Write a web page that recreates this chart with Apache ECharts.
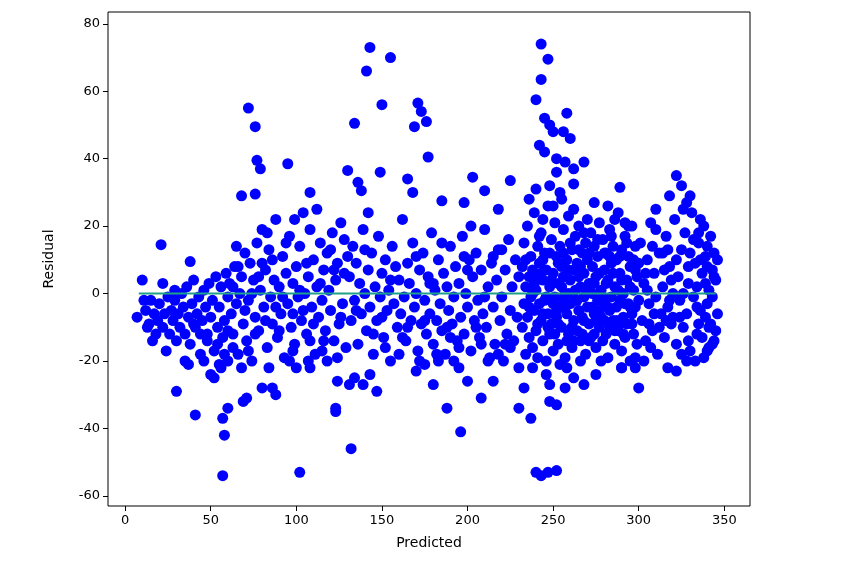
<!DOCTYPE html>
<html>
<head>
<meta charset="utf-8">
<script src="https://cdn.jsdelivr.net/npm/echarts@6/dist/echarts.min.js"></script>
<style>html,body{margin:0;background:#fff}#main{width:857px;height:577px}</style>
</head>
<body>
<div id="main"></div>
<script>
var xTicks = [0, 50, 100, 150, 200, 250, 300, 350]
var yTicks = [-60, -40, -20, 0, 20, 40, 60, 80]
var zeroLine = [[8, 0], [345, 0]]

var highPoints = [[72,55],[76,49.5],[77,39.5],[79,37],[76,29.5],[68,29],[95,38.5],[108,30],[143,73],[141,66],[155,70],[150,56],[134,50.5],[130,36.5],[136,33],[138,30.5],[149,36],[165,34],[168,30],[171,56.5],[173,54],[176,51],[177,40.5],[169,49.5],[185,27.5],[198,27],[203,34.5],[210,30.5],[218,25],[225,33.5],[240,57.5],[243,74],[243,63.5],[247,69.5],[245,52],[248,50],[250,48],[252,40],[242,44],[245,42],[258,53.5],[256,48],[260,46],[257,39],[262,37],[268,39],[262,32.5],[252,36],[248,32],[255,28],[289,31.5],[322,35],[325,32],[330,29],[310,25],[318,29],[21,14.5],[38,9.5],[346,10],[340,14],[335,18]]

var lowPoints = [[102,-53],[57,-54],[132,-46],[196,-41],[240,-53],[243,-54],[247,-53],[252,-52.5],[58,-42],[57,-37],[60,-34],[41,-36],[30,-29],[123,-34],[123,-35],[147,-29],[131,-27],[134,-25],[139,-27],[124,-26],[143,-24],[180,-27],[188,-34],[208,-31],[215,-26],[230,-34],[237,-37],[233,-28],[248,-32],[252,-33],[257,-28],[262,-25],[248,-27],[268,-27],[275,-24],[290,-22],[300,-28],[298,-22],[317,-22],[322,-23],[328,-20],[340,-17],[343,-15],[88,-30],[80,-28],[86,-28],[52,-25],[55,-21],[69,-32],[71,-31],[35,-20],[37,-21],[40,-9],[22,3],[10,4],[7,-7],[48,-12],[50,-24],[60,-20],[63,-16],[108,-22],[98,-17],[115,-17],[200,-26],[195,-22],[175,-21],[183,-20],[170,-23]]

var cloudLeft = [[12,-5],[14,-9],[15,-2],[17,-6],[18,-12],[19,-8],[20,-3],[22,-10],[23,-6],[25,-1],[26,-12],[27,-5],[28,-8],[29,-2],[30,-14],[31,-6],[32,-10],[33,0],[34,-4],[35,-12],[36,2],[37,-7],[38,-15],[39,-3],[40,4],[41,-10],[42,-6],[43,-1],[44,-18],[45,-8],[46,1],[47,-4],[48,-14],[49,3],[50,-7],[51,-2],[52,-17],[53,5],[54,-10],[55,-4],[56,2],[57,-13],[58,-8],[59,6],[60,-1],[16,-14],[24,-17],[29,1],[44,-12],[46,-20],[54,-15],[56,-22],[58,-18],[60,-11],[11,-2],[13,-10]]

var cloudMid1 = [[61,3],[62,-6],[63,-12],[64,8],[65,-3],[66,-18],[67,0],[68,5],[69,-9],[70,12],[71,-14],[72,-2],[73,9],[74,-20],[75,4],[76,-7],[77,15],[78,-11],[79,1],[80,19],[81,-4],[82,7],[83,-16],[84,13],[85,-1],[86,-9],[87,4],[88,22],[89,-13],[90,2],[91,-6],[92,11],[93,-19],[94,6],[95,-3],[96,17],[97,-10],[98,3],[99,-15],[100,8],[101,-1],[102,14],[103,-8],[104,24],[105,0],[106,-12],[107,5],[108,19],[109,-4],[110,10],[111,-18],[112,2],[113,-7],[114,15],[115,-2],[116,7],[117,-11],[118,12],[119,1],[120,-5],[121,18],[122,-14],[123,4],[124,9],[125,-9],[126,21],[127,-3],[128,6],[129,-16],[130,11],[63,2],[66,8],[70,-5],[74,0],[78,5],[82,-8],[86,10],[90,-11],[94,15],[98,-6],[102,1],[106,9],[110,-9],[114,3],[118,-20],[122,7],[126,-7],[68,-22],[72,-17],[84,-22],[96,-20],[108,-14],[112,25],[100,-22],[76,-12],[80,9],[88,-4],[92,-1],[104,-5],[116,-14],[120,13],[124,-19],[128,16],[65,14],[83,18],[99,22],[107,-20]]

var cloudMid2 = [[131,5],[132,-8],[133,14],[134,-2],[135,9],[136,-15],[137,3],[138,-6],[139,19],[140,0],[141,-11],[142,7],[143,-4],[144,12],[145,-18],[146,2],[147,-8],[148,17],[149,-1],[150,6],[151,-13],[152,10],[153,-5],[154,1],[155,-20],[156,14],[157,-3],[158,8],[159,-10],[160,4],[161,-6],[162,22],[163,-1],[164,-14],[165,9],[166,3],[167,-8],[168,15],[169,-4],[170,0],[171,-17],[172,7],[173,-9],[174,12],[175,-2],[176,-12],[177,5],[178,-6],[179,18],[180,-15],[181,1],[182,-8],[183,10],[184,-3],[185,-11],[186,6],[187,-18],[188,2],[189,-5],[190,14],[191,-9],[192,-1],[193,8],[194,-14],[195,3],[196,-7],[197,17],[198,-12],[199,0],[200,-4],[201,10],[202,-17],[203,5],[204,-8],[205,12],[206,-2],[207,-13],[208,7],[209,-6],[210,19],[211,-10],[212,2],[213,-19],[214,9],[215,-4],[216,-15],[217,4],[218,13],[219,-8],[220,-1],[221,-20],[222,7],[223,-12],[224,16],[225,-5],[226,2],[227,-14],[228,10],[229,-7],[230,-22],[135,-5],[140,13],[145,-12],[150,-7],[155,4],[160,-18],[165,-10],[170,11],[175,-8],[180,3],[185,15],[190,-13],[195,-16],[200,7],[205,-10],[210,-1],[215,11],[220,13],[225,-16],[230,5],[142,24],[152,-16],[162,-13],[172,-20],[182,-18],[192,-20],[202,20],[212,-20],[222,-15],[178,3],[188,-10],[198,11],[208,-15],[218,-18]]

var cloudRight = [[232,8],[232,-10],[233,15],[233,-3],[234,2],[234,-18],[235,20],[235,-7],[236,5],[236,-13],[237,11],[237,-1],[238,-16],[238,7],[239,24],[239,-5],[240,1],[240,-11],[241,14],[241,-19],[242,-3],[242,9],[243,18],[243,-8],[244,4],[244,-14],[245,12],[245,-2],[246,-20],[246,7],[247,26],[247,-6],[248,2],[248,-12],[249,16],[249,-9],[250,6],[250,-17],[251,21],[251,-1],[252,-7],[252,11],[253,3],[253,-15],[254,14],[254,-4],[255,-10],[255,8],[256,19],[256,-2],[257,0],[257,-19],[258,10],[258,-6],[259,23],[259,-12],[260,4],[260,-3],[261,13],[261,-16],[262,-8],[262,7],[263,17],[263,1],[264,-11],[264,9],[265,-5],[265,20],[266,2],[266,-14],[267,12],[267,-7],[268,-1],[268,6],[269,15],[269,-18],[270,-4],[270,10],[271,3],[271,-9],[272,18],[272,-13],[273,0],[273,8],[274,-6],[274,14],[275,5],[275,-16],[276,11],[276,-2],[277,-10],[277,21],[278,1],[278,-7],[279,16],[279,-14],[280,7],[280,-3],[281,-12],[281,12],[282,4],[282,-19],[283,19],[283,-5],[284,-1],[284,9],[285,-8],[285,14],[286,2],[286,-15],[287,10],[287,-4],[288,24],[288,-11],[289,6],[289,-2],[290,-17],[290,13],[291,0],[291,-7],[292,17],[292,-13],[293,4],[293,-9],[294,11],[294,-3],[295,-20],[295,8],[296,20],[296,-6],[297,1],[297,-12],[298,14],[298,-4],[299,5],[299,-15],[300,9],[300,-2],[236,28],[240,31],[244,22],[250,26],[254,30],[258,-22],[262,25],[266,-20],[270,22],[274,27],[278,-20],[282,26],[286,22],[290,-22],[294,20],[298,-19],[238,-22],[246,-24],[254,-21],[242,17],[260,15],[268,18],[276,16],[284,17],[292,21],[252,-5],[256,5],[264,-2],[272,3],[280,-8],[288,1],[296,-9],[234,10],[244,-6],[248,12],[258,-14],[266,8],[274,-12],[282,-4],[290,4],[298,7]]

var cloudDense = [[236,-4],[239,3],[241,-9],[243,6],[246,-1],[249,4],[251,-12],[253,9],[255,2],[257,-4],[259,7],[261,-10],[263,-2],[265,5],[267,-12],[269,1],[271,12],[273,-4],[275,-8],[277,6],[279,-1],[281,3],[283,-10],[285,6],[287,-8],[289,11],[291,-12],[293,15],[295,-4],[297,10],[241,5],[247,-10],[253,-9],[259,0],[265,13],[271,-14],[277,-5],[283,11],[289,-9],[295,2],[238,0],[244,10],[250,-3],[256,12],[262,-14],[268,-8],[274,3],[280,12],[286,-11],[292,-3],[304,6],[309,-6],[314,12],[319,4],[324,-7],[329,8],[334,-4],[339,3],[344,5],[306,-9],[316,-8],[326,0],[336,10],[341,-10]]

var cloudFar = [[301,15],[302,-8],[303,3],[304,-14],[305,10],[306,-3],[307,21],[308,-11],[309,6],[310,-1],[311,-18],[312,12],[313,-6],[314,2],[315,-13],[316,17],[317,-4],[318,8],[319,-9],[320,0],[321,22],[322,-15],[323,5],[324,-2],[325,13],[326,-10],[327,18],[328,-6],[329,3],[330,-17],[331,24],[332,-1],[333,9],[334,-12],[335,15],[336,-5],[337,6],[338,-19],[339,11],[340,-3],[341,1],[342,-9],[343,7],[344,-14],[345,4],[346,-6],[303,-20],[307,-16],[312,-10],[317,13],[322,10],[326,25],[329,-14],[332,16],[335,-9],[338,20],[341,-16],[344,12],[305,1],[310,19],[315,7],[320,-7],[325,-18],[330,12],[334,2],[337,-13],[340,8],[343,-1],[308,14],[318,-2],[328,27],[333,-20],[336,22],[339,-7],[342,17],[345,-11]]

var allPoints = [].concat(highPoints, lowPoints, cloudLeft, cloudMid1, cloudMid2, cloudRight, cloudDense, cloudFar)

var myChart = echarts.init(document.getElementById('main'))
var font = 'DejaVu Sans'
var option = {
    animation: false,
    grid: {
        left: 108, right: 107, top: 12, bottom: 71,
        show: true, borderColor: '#000', borderWidth: 1
    },
    xAxis: {
        type: 'value', min: -10, max: 365,
        name: 'Predicted', nameLocation: 'middle', nameGap: 30,
        nameTextStyle: { fontFamily: font, fontSize: 14, color: '#000' },
        splitLine: { show: false },
        axisLine: { show: false, onZero: false },
        axisTick: { show: true, length: 5, customValues: xTicks, lineStyle: { color: '#000' } },
        axisLabel: { customValues: xTicks, fontFamily: font, fontSize: 13, color: '#000', margin: 8 }
    },
    yAxis: {
        type: 'value', min: -63, max: 83.5,
        name: 'Residual', nameLocation: 'middle', nameGap: 52, nameRotate: 90,
        nameTextStyle: { fontFamily: font, fontSize: 14, color: '#000' },
        splitLine: { show: false },
        axisLine: { show: false, onZero: false },
        axisTick: { show: true, length: 5, customValues: yTicks, lineStyle: { color: '#000' } },
        axisLabel: { customValues: yTicks, fontFamily: font, fontSize: 13, color: '#000', margin: 8 }
    },
    series: [
        {
            type: 'scatter',
            data: allPoints,
            symbolSize: 11,
            itemStyle: { color: '#0000ff', opacity: 1 }
        },
        {
            type: 'line',
            data: zeroLine,
            symbol: 'none',
            lineStyle: { color: '#1fa08a', width: 2 },
            z: 3
        }
    ]
}
myChart.setOption(option)
</script>
</body>
</html>
